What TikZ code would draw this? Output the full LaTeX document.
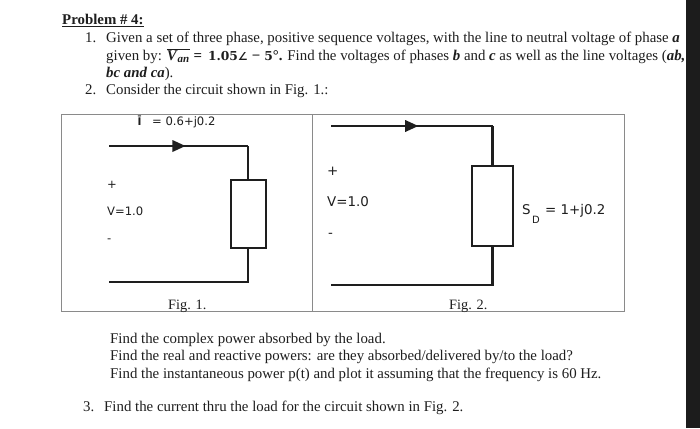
\documentclass[tikz,border=0pt]{standalone}
\usepackage{fontspec}
\setmainfont{Liberation Serif}
\newfontfamily\labfont{DejaVu Sans}
\newfontfamily\mathnum{DejaVu Serif}
\usetikzlibrary{arrows.meta,decorations.markings}
\definecolor{ink}{HTML}{1E1E1E}
\definecolor{framegray}{HTML}{8A8A8A}
\definecolor{barblack}{HTML}{1C1C1C}
\tikzset{
  x=1pt,y=-1pt,
  body/.style={anchor=base west,inner sep=0pt,font=\fontsize{14.85}{16}\selectfont,text=ink},
  figcap/.style={anchor=base west,inner sep=0pt,font=\fontsize{14.3}{16}\selectfont,text=ink},
  lab/.style={anchor=base west,inner sep=0pt,font=\labfont\fontsize{11.6}{13}\selectfont,text=ink},
  labbig/.style={anchor=base west,inner sep=0pt,font=\labfont\fontsize{13.4}{15}\selectfont,text=ink},
  wire/.style={line width=2.2pt,draw=ink,line join=miter},
  flow/.style={wire,postaction={decorate},decoration={markings,mark=at position #1 with {\arrow[line width=0pt]{Triangle[length=13pt,width=12pt]}}}},
  load/.style={draw=ink,line width=2pt,fill=white,inner sep=0pt,outer sep=0pt,minimum width=#1,anchor=north west},
  frame/.style={draw=framegray,line width=1pt}
}
\begin{document}
\begin{tikzpicture}
\useasboundingbox (0,0) rectangle (700,428);
\fill[white] (0,0) rectangle (700,428);

\node[body,font=\fontsize{14.85}{16}\selectfont\bfseries] (title) at (62,25) {\underline{Problem \# 4:}};
\node[body] (n1) at (85,42) {1.};
\node[body] (l1) at (106,42) {Given a set of three phase, positive sequence voltages, with the line to neutral voltage of phase \textbf{\textit{a}}};
\node[body] (l2) at (106,60) {given by: $\overline{\hbox{\textbf{\textit{V}}}_{\hbox{\fontsize{11}{11}\selectfont\textbf{\textit{an}}}}}$ \textbf{=\hspace{6pt}{\mathnum\fontsize{12.3}{12}\selectfont 1.05}{\labfont\fontsize{11}{11}\selectfont ∠}\hspace{4pt}−\hspace{4pt}{\mathnum\fontsize{12.3}{12}\selectfont 5}°.} Find the voltages of phases \textbf{\textit{b}} and \textbf{\textit{c}} as well as the line voltages (\textbf{\textit{ab,}}};
\node[body] (l3) at (106,77) {\textbf{\textit{bc and ca}}).};
\node[body] (n2) at (85,94) {2.};
\node[body] (l4) at (106,94) {Consider the circuit shown in Fig. 1.:};

\draw[frame] (61.5,114) rectangle (312,311);
\draw[frame] (312,114) rectangle (624,311);

\coordinate (a1) at (109,146);
\coordinate (a2) at (248,146);
\coordinate (a3) at (248,282);
\coordinate (a4) at (109,282);
\node[load=35pt,minimum height=68pt] (la) at (230.5,180) {};
\draw[flow=0.55] (a1) -- (a2);
\draw[wire] (a2) -- (la.north);
\draw[wire] (la.south) -- (a3) -- (a4);
\node[lab,font=\labfont\bfseries\fontsize{10.5}{12}\selectfont] (ia) at (137.5,125) {Ī};
\node[lab] (ib) at (152,125) {= 0.6+j0.2};
\node[lab] (pa) at (107,188) {+};
\node[lab] (va) at (107,215) {V=1.0};
\node[lab] (ma) at (107,242) {-};
\node[figcap] (fa) at (168,309) {Fig. 1.};

\coordinate (b1) at (331,126);
\coordinate (b2) at (492.5,126);
\coordinate (b3) at (492.5,285);
\coordinate (b4) at (331,285);
\node[load=41pt,minimum height=80pt] (lb) at (472,165.5) {};
\draw[flow=0.54] (b1) -- (b2);
\draw[wire] (b2) -- (lb.north);
\draw[wire] (lb.south) -- (b3) -- (b4);
\node[labbig] (pb) at (327,175) {+};
\node[labbig] (vb) at (327,206) {V=1.0};
\node[labbig] (mb) at (328,237) {-};
\node[labbig] (sb) at (522,214) {S};
\node[lab,font=\labfont\fontsize{10}{11}\selectfont] (db) at (532,223) {D};
\node[labbig] (eb) at (545,214) {= 1+j0.2};
\node[figcap] (fb) at (449,309) {Fig. 2.};

\node[body] (t1) at (110,343) {Find the complex power absorbed by the load.};
\node[body] (t2) at (110,360) {Find the real and reactive powers: are they absorbed/delivered by/to the load?};
\node[body] (t3) at (110,378) {Find the instantaneous power p(t) and plot it assuming that the frequency is 60 Hz.};
\node[body] (n3) at (83,411) {3.};
\node[body] (t4) at (104,411) {Find the current thru the load for the circuit shown in Fig. 2.};

\fill[barblack] (686,0) rectangle (700,428);
\end{tikzpicture}
\end{document}
